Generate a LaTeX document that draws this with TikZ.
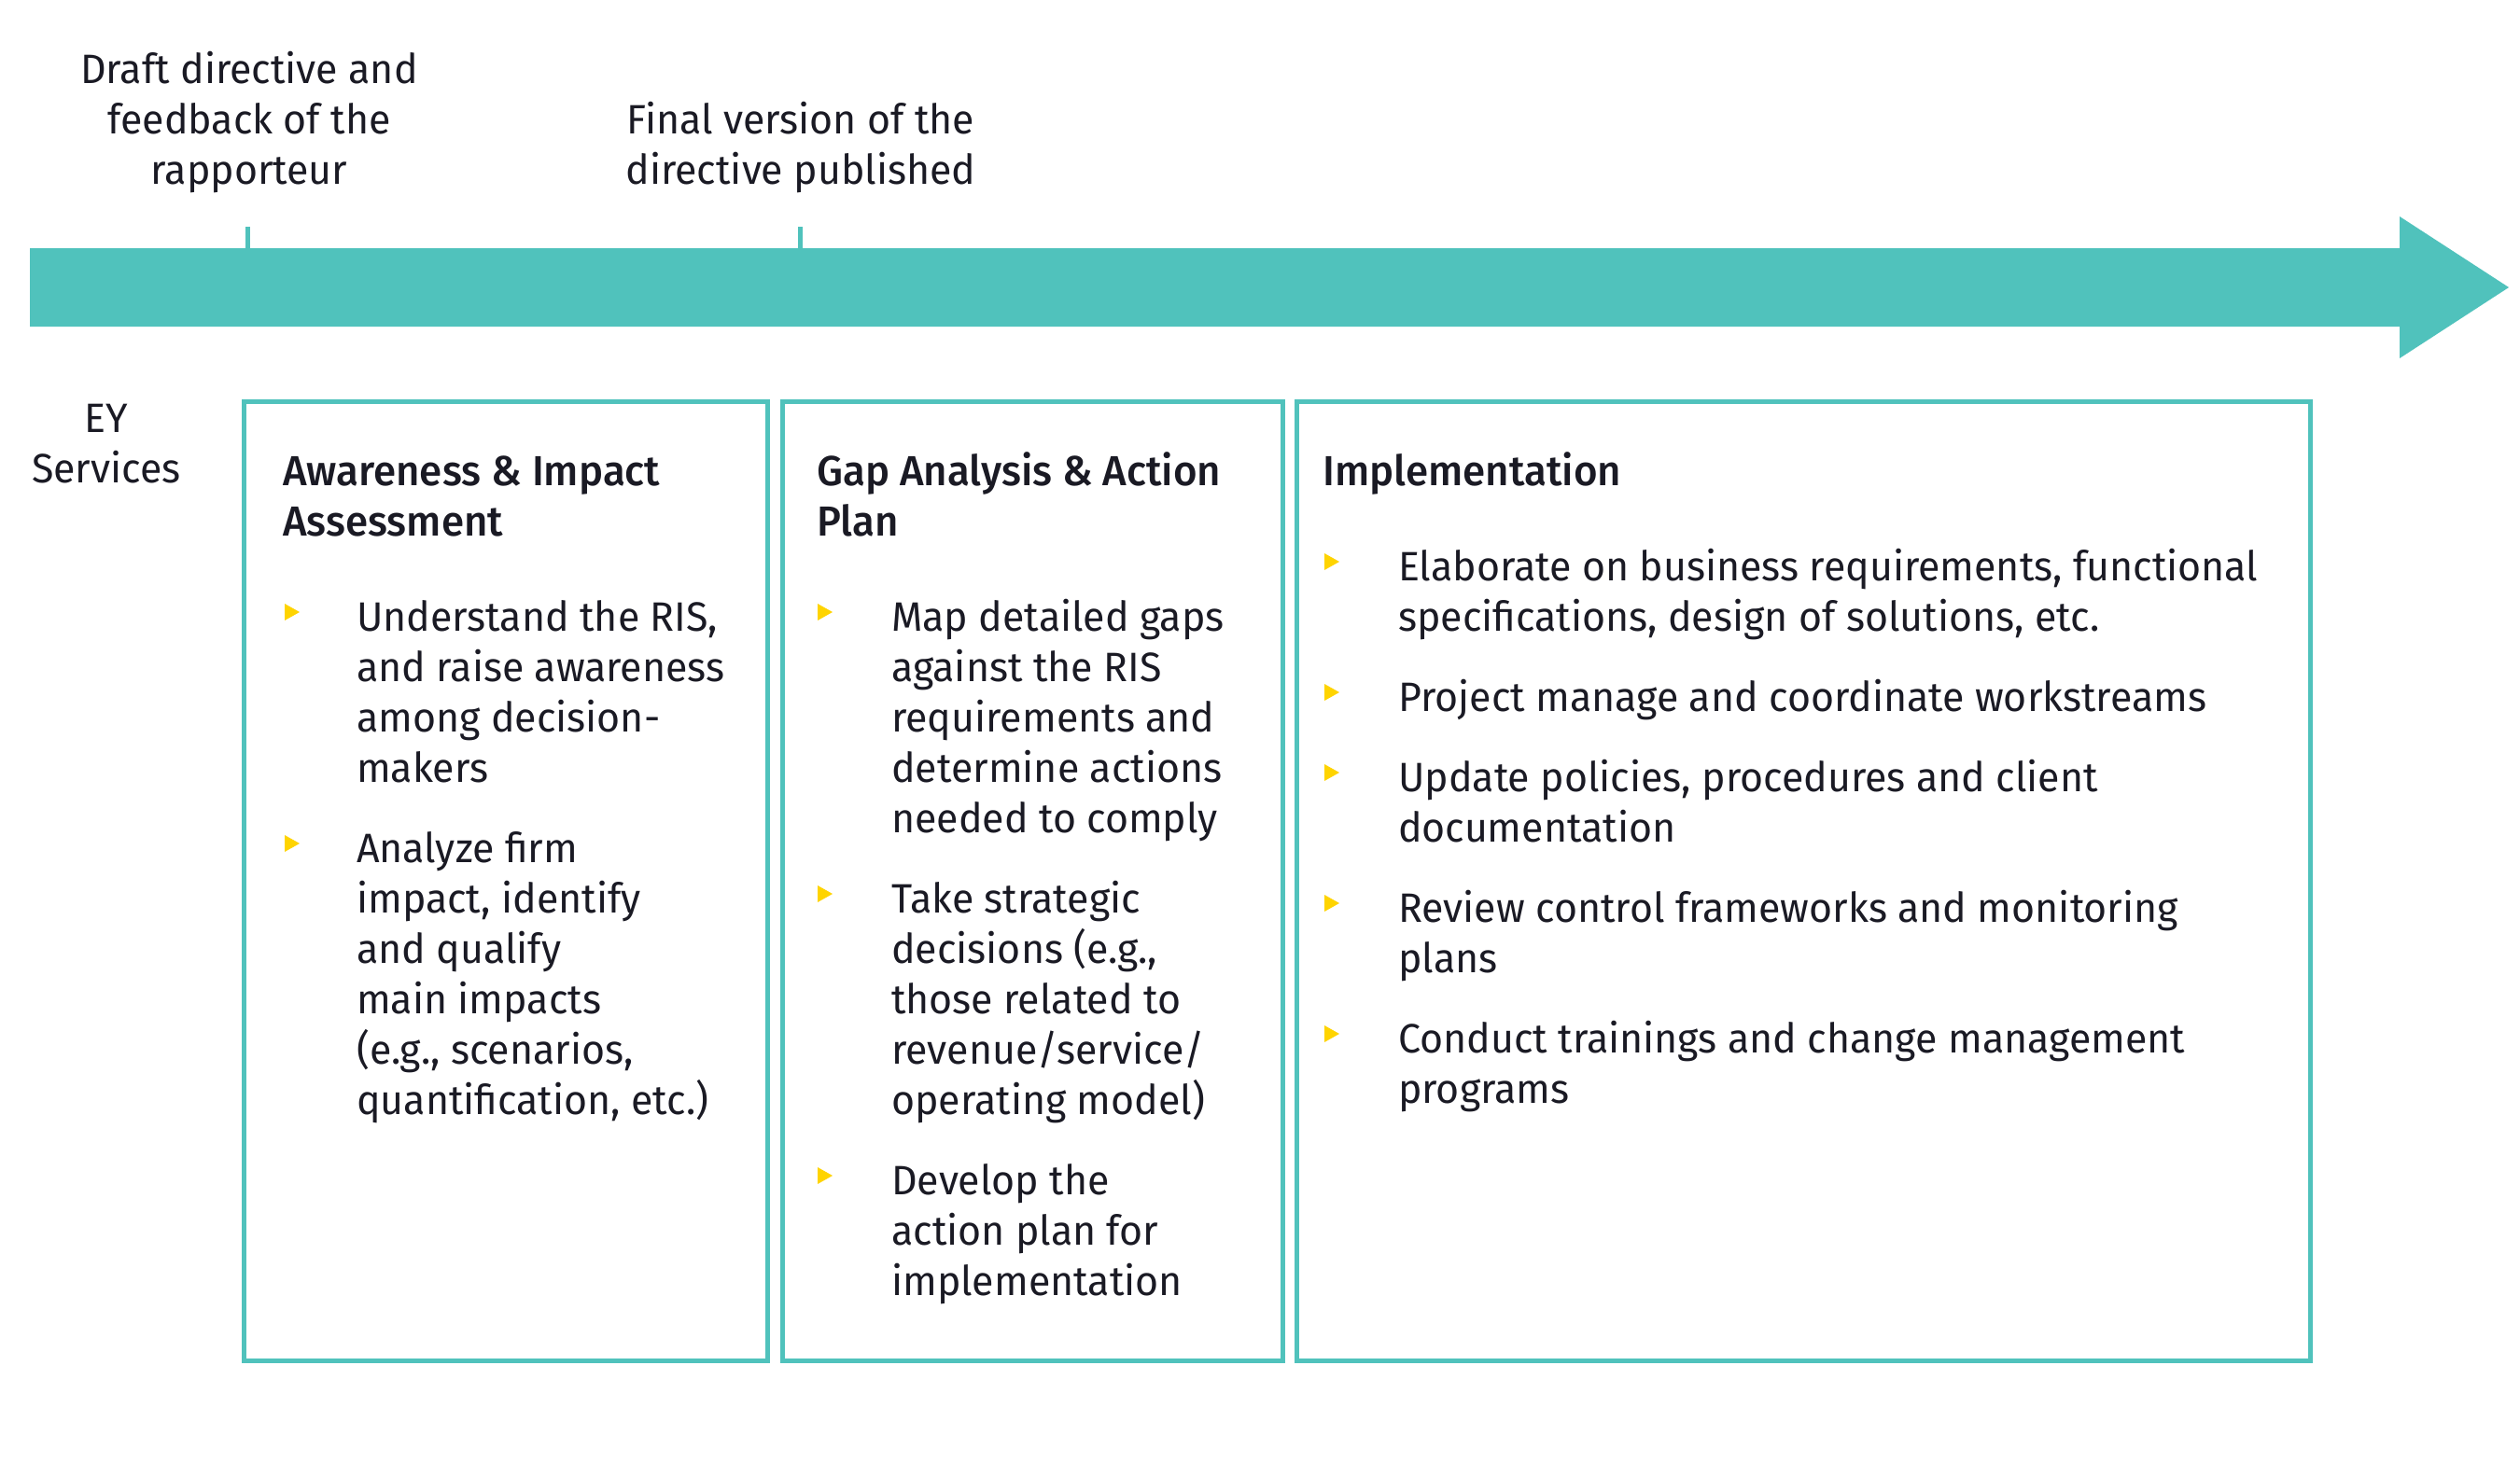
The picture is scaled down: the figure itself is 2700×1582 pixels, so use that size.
\documentclass[tikz,border=0pt]{standalone}
\usepackage{fontspec}
\setmainfont{Fira Sans}[FakeStretch=0.975, BoldFont={* Medium}]
\definecolor{teal}{RGB}{80,194,188}
\definecolor{yel}{RGB}{255,212,0}
\definecolor{txt}{RGB}{26,26,36}
\newcommand\ml[1]{\vtop{\lineskiplimit=-100pt\halign{##\hfil\cr#1\crcr}}}
\newcommand\mc[1]{\vtop{\lineskiplimit=-100pt\halign{\hfil##\hfil\cr#1\crcr}}}
\newcommand\bul[2]{\fill[yel] (#1,#2-29) -- (#1+16,#2-20) -- (#1,#2-11) -- cycle;}
\tikzset{
  bodytext/.style={font=\fontsize{44}{54}\selectfont, text=txt, inner sep=0pt, anchor=base west},
  headtext/.style={bodytext, font=\fontsize{45}{54}\selectfont\bfseries},
  toplabel/.style={bodytext, anchor=base},
  phasebox/.style={draw=teal, line width=5pt},
  tickline/.style={draw=teal, line width=5pt},
}
\begin{document}
\begin{tikzpicture}[x=1pt,y=-1pt]
\useasboundingbox (0,0) rectangle (2700,1582);
\fill[white] (0,0) rectangle (2700,1582);
% timeline arrow
\fill[teal] (32,266) -- (2571,266) -- (2571,232) -- (2688,308) -- (2571,384) -- (2571,350) -- (32,350) -- cycle;
\coordinate (t1a) at (265,243); \coordinate (t1b) at (265,268);
\coordinate (t2a) at (857,243); \coordinate (t2b) at (857,268);
\draw[tickline] (t1a) -- (t1b);
\draw[tickline] (t2a) -- (t2b);
\node[toplabel] (draft) at (267,89) {\mc{Draft directive and\cr feedback of the\cr rapporteur}};
\node[toplabel] (final) at (858,143) {\mc{Final version of the\cr directive published}};
\node[toplabel] (ey) at (114,463) {\mc{EY\cr Services}};
% boxes
\draw[phasebox] (261,430.5) rectangle (822.5,1458.5);
\draw[phasebox] (838.5,430.5) rectangle (1374.5,1458.5);
\draw[phasebox] (1389.5,430.5) rectangle (2475.5,1458.5);
% headings
\node[headtext] (h1) at (303,520) {\ml{Awareness \& Impact\cr Assessment}};
\node[headtext] (h2) at (875,520) {\ml{Gap Analysis \& Action\cr Plan}};
\node[headtext] (h3) at (1417,520) {Implementation};
% column 1
\bul{305}{676}
\node[bodytext] (a1) at (382,676) {\ml{Understand the RIS,\cr and raise awareness\cr among decision-\cr makers}};
\bul{305}{924}
\node[bodytext] (a2) at (382,924) {\ml{Analyze firm\cr impact, identify\cr and qualify\cr main impacts\cr (e.g., scenarios,\cr quantification, etc.)}};
% column 2
\bul{876}{676}
\node[bodytext] (b1) at (955,676) {\ml{Map detailed gaps\cr against the RIS\cr requirements and\cr determine actions\cr needed to comply}};
\bul{876}{978}
\node[bodytext] (b2) at (955,978) {\ml{Take strategic\cr decisions (e.g.,\cr those related to\cr revenue/service/\cr operating model)}};
\bul{876}{1280}
\node[bodytext] (b3) at (955,1280) {\ml{Develop the\cr action plan for\cr implementation}};
% column 3
\bul{1419}{622}
\node[bodytext] (c1) at (1498,622) {\ml{Elaborate on business requirements, functional\cr specifications, design of solutions, etc.}};
\bul{1419}{762}
\node[bodytext] (c2) at (1498,762) {Project manage and coordinate workstreams};
\bul{1419}{848}
\node[bodytext] (c3) at (1498,848) {\ml{Update policies, procedures and client\cr documentation}};
\bul{1419}{988}
\node[bodytext] (c4) at (1498,988) {\ml{Review control frameworks and monitoring\cr plans}};
\bul{1419}{1128}
\node[bodytext] (c5) at (1498,1128) {\ml{Conduct trainings and change management\cr programs}};
\end{tikzpicture}
\end{document}
